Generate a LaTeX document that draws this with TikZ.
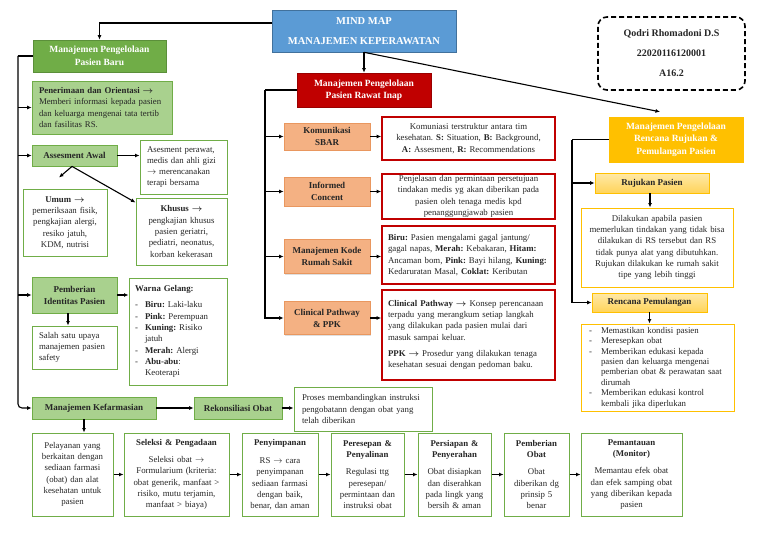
\documentclass[tikz,border=0pt]{standalone}
\usepackage{fontspec}
\setmainfont{Liberation Serif}
\usetikzlibrary{arrows.meta,shadows}
\frenchspacing
\definecolor{dgreen}{HTML}{70AD47}
\definecolor{dgreenb}{HTML}{5B8F3A}
\definecolor{lgreen}{HTML}{A9D18E}
\definecolor{salmon}{HTML}{F4B183}
\definecolor{salmonb}{HTML}{E9975F}
\definecolor{dred}{HTML}{C00000}
\definecolor{mblue}{HTML}{5B9BD5}
\definecolor{mblueb}{HTML}{41719C}
\definecolor{gold}{HTML}{FFC000}
\definecolor{lgoldt}{HTML}{FFE9A8}
\definecolor{lgoldb}{HTML}{FFD45A}
\definecolor{txt}{HTML}{262626}
\newcommand\fsn{\fontsize{8.8}{11.3}\selectfont}
\newcommand\fsl{\fontsize{8.8}{10.4}\selectfont}
\newcommand\fsb{\fontsize{9}{12}\selectfont\bfseries}
\newcommand\fst{\fontsize{9.5}{12.5}\selectfont\bfseries}
\newcommand\ra{$\rightarrow$}
\newcommand\rab{{\boldmath$\rightarrow$}}
\newcommand\dashitem[1]{\makebox[10pt][l]{-}#1}
\newcommand\contitem[1]{\hspace*{10pt}#1}
\newcommand\dashitemb[1]{\makebox[12pt][l]{-}#1}
\newcommand\contitemb[1]{\hspace*{12pt}#1}
\begin{document}
\begin{tikzpicture}[x=1pt,y=-1pt,
  every node/.style={inner sep=0pt, align=center, text=txt},
  shad/.style={drop shadow={opacity=0.25, shadow xshift=1.2pt, shadow yshift=-1.2pt}},
  dgbox/.style={fill=dgreen, draw=dgreenb, line width=0.6pt, text=white, font=\fst},
  lgbox/.style={shad, fill=lgreen, draw=dgreen, line width=0.8pt, font=\fsb},
  wgbox/.style={fill=white, draw=dgreen, line width=1pt, font=\fsn},
  sbox/.style={shad, fill=salmon, draw=salmonb, line width=0.8pt, font=\fsb},
  rbox/.style={fill=white, draw=dred, line width=1.6pt, font=\fsn},
  ybox/.style={shad, top color=lgoldt, bottom color=lgoldb, draw=gold, line width=0.8pt, font=\fsb},
  ywbox/.style={fill=white, draw=gold, line width=1pt, font=\fsn},
  arr/.style={-{Latex[length=4.5pt,width=4pt]}, line width=1.1pt},
  ln/.style={line width=1.1pt}
]
\useasboundingbox (0,0) rectangle (768,543);

% ---------- title and name ----------
\node[fill=mblue, draw=mblueb, line width=0.6pt, text=white,
      font=\fontsize{10.5}{12}\selectfont\bfseries,
      minimum width=184, minimum height=42] (mm) at (364,31)
      {MIND MAP\\[8pt]MANAJEMEN KEPERAWATAN};
\node[draw=black, dashed, dash pattern=on 5pt off 3pt, line width=1.6pt,
      rounded corners=9pt, font=\fontsize{10}{12}\selectfont\bfseries,
      minimum width=147, minimum height=73] (nm) at (671.5,53.5)
      {Qodri Rhomadoni D.S\\[8pt]22020116120001\\[8pt]A16.2};

% ---------- left branch ----------
\node[dgbox, minimum width=133, minimum height=32] (pb) at (99.5,56)
      {Manajemen Pengelolaan\\Pasien Baru};
\node[lgbox, font=\fsn, minimum width=140, minimum height=53, text width=126, align=left] (pen) at (102,107.5)
      {\textbf{Penerimaan dan Orientasi \rab}\\Memberi informasi kepada pasien\\dan keluarga mengenai tata tertib\\dan fasilitas RS.};
\node[lgbox, minimum width=85, minimum height=21] (aa) at (74.5,155.5) {Assesment Awal};
\node[wgbox, minimum width=87, minimum height=54, text width=73, align=left] (ap) at (183.5,167)
      {Asesment perawat,\\medis dan ahli gizi\\\ra{} merencanakan\\terapi bersama};
\node[wgbox, minimum width=84, minimum height=67, text width=78] (um) at (65,222.5)
      {\textbf{Umum \rab}\\pemeriksaan fisik,\\pengkajian alergi,\\resiko jatuh,\\KDM, nutrisi};
\node[wgbox, minimum width=91, minimum height=67, text width=85] (kh) at (181.5,231.5)
      {\textbf{Khusus \rab}\\pengkajian khusus\\pasien geriatri,\\pediatri, neonatus,\\korban kekerasan};
\node[lgbox, minimum width=85, minimum height=36] (pi) at (74.5,295) {Pemberian\\Identitas Pasien};
\node[wgbox, minimum width=98, minimum height=107, text width=86, align=left] (wg) at (178,331.5)
      {\textbf{Warna Gelang:}\\[5pt]
       \dashitem{\textbf{Biru:} Laki-laku}\\
       \dashitem{\textbf{Pink:} Perempuan}\\
       \dashitem{\textbf{Kuning:} Risiko}\\
       \contitem{jatuh}\\
       \dashitem{\textbf{Merah:} Alergi}\\
       \dashitem{\textbf{Abu-abu}:}\\
       \contitem{Keoterapi}};
\node[wgbox, minimum width=85, minimum height=43, text width=71, align=left] (ss) at (74.5,347.5)
      {Salah satu upaya\\manajemen pasien\\safety};
\node[lgbox, minimum width=124, minimum height=22] (kef) at (94,408) {Manajemen Kefarmasian};
\node[lgbox, minimum width=88, minimum height=22] (rek) at (238,408) {Rekonsiliasi Obat};
\node[wgbox, minimum width=138, minimum height=44, text width=122, align=left] (pro) at (363,409)
      {Proses membandingkan instruksi\\pengobatann dengan obat yang\\telah diberikan};

% bottom chain
\node[wgbox, minimum width=81, minimum height=83, text width=75] (pel) at (72.5,474.5)
      {Pelayanan yang\\berkaitan dengan\\sediaan farmasi\\(obat) dan alat\\kesehatan untuk\\pasien};
\node[wgbox, minimum width=105, minimum height=83, text width=99] (sel) at (176.5,474.5)
      {\textbf{Seleksi \& Pengadaan}\\[6pt]Seleksi obat \ra\\Formularium (kriteria:\\obat generik, manfaat >\\risiko, mutu terjamin,\\manfaat > biaya)};
\node[wgbox, minimum width=76, minimum height=83, text width=72] (pny) at (280,474.5)
      {\textbf{Penyimpanan}\\[7pt]RS \ra{} cara\\penyimpanan\\sediaan farmasi\\dengan baik,\\benar, dan aman};
\node[wgbox, minimum width=73, minimum height=83, text width=69] (prs) at (367.5,474.5)
      {\textbf{Peresepan \&}\\\textbf{Penyalinan}\\[6pt]Regulasi ttg\\peresepan/\\permintaan dan\\instruksi obat};
\node[wgbox, minimum width=73, minimum height=83, text width=69] (psp) at (454.5,474.5)
      {\textbf{Persiapan \&}\\\textbf{Penyerahan}\\[6pt]Obat disiapkan\\dan diserahkan\\pada lingk yang\\bersih \& aman};
\node[wgbox, minimum width=65, minimum height=83, text width=61] (pob) at (536.5,474.5)
      {\textbf{Pemberian}\\\textbf{Obat}\\[6pt]Obat\\diberikan dg\\prinsip 5\\benar};
\node[wgbox, minimum width=101, minimum height=83, text width=95] (pmt) at (631.5,474.5)
      {\textbf{Pemantauan}\\\textbf{(Monitor)}\\[6pt]Memantau efek obat\\dan efek samping obat\\yang diberikan kepada\\pasien};

% ---------- middle branch ----------
\node[fill=dred, draw=dred!80!black, line width=0.6pt, text=white, font=\fst,
      minimum width=134, minimum height=34] (ri) at (364,90)
      {Manajemen Pengelolaan\\Pasien Rawat Inap};
\node[sbox, minimum width=86, minimum height=27] (sb) at (327,136.5) {Komunikasi\\SBAR};
\node[sbox, minimum width=86, minimum height=29] (ic) at (327,191.5) {Informed\\Concent};
\node[sbox, minimum width=86, minimum height=34] (kd) at (327,256.5) {Manajemen Kode\\Rumah Sakit};
\node[sbox, minimum width=86, minimum height=33] (cp) at (327,318) {Clinical Pathway\\\& PPK};
\node[rbox, minimum width=173, minimum height=43, text width=165] (sbd) at (468.5,138.5)
      {Komuniasi terstruktur antara tim\\kesehatan. \textbf{S:} Situation, \textbf{B:} Background,\\\textbf{A:} Assesment, \textbf{R:} Recommendations};
\node[rbox, minimum width=173, minimum height=45, text width=165] (icd) at (468.5,196.5)
      {Penjelasan dan permintaan persetujuan\\tindakan medis yg akan diberikan pada\\pasien oleh tenaga medis kpd\\penanggungjawab pasien};
\node[rbox, minimum width=173, minimum height=58, text width=161, align=left] (kdd) at (468.5,255)
      {\textbf{Biru:} Pasien mengalami gagal jantung/\\gagal napas, \textbf{Merah:} Kebakaran, \textbf{Hitam:}\\Ancaman bom, \textbf{Pink:} Bayi hilang, \textbf{Kuning:}\\Kedaruratan Masal, \textbf{Coklat:} Keributan};
\node[rbox, minimum width=173, minimum height=90, text width=161, align=left] (cpd) at (468.5,335)
      {\textbf{Clinical Pathway \rab} Konsep perencanaan\\terpadu yang merangkum setiap langkah\\yang dilakukan pada pasien mulai dari\\masuk sampai keluar.\\[5pt]\textbf{PPK \rab} Prosedur yang dilakukan tenaga\\kesehatan sesuai dengan pedoman baku.};

% ---------- right branch ----------
\node[fill=gold, draw=gold, text=white, font=\fst, minimum width=134, minimum height=45] (yt) at (676,139.5)
      {Manajemen Pengelolaan\\Rencana Rujukan \&\\Pemulangan Pasien};
\node[ybox, minimum width=114, minimum height=20] (rp) at (652,183) {Rujukan Pasien};
\node[ywbox, minimum width=152, minimum height=79, text width=146] (rpd) at (657,247.5)
      {Dilakukan apabila pasien\\memerlukan tindakan yang tidak bisa\\dilakukan di RS tersebut dan RS\\tidak punya alat yang dibutuhkan.\\Rujukan dilakukan ke rumah sakit\\tipe yang lebih tinggi};
\node[ybox, minimum width=115, minimum height=19] (rpl) at (649.5,302.5) {Rencana Pemulangan};
\node[ywbox, font=\fsl, minimum width=153, minimum height=87, text width=137, align=left] (rpld) at (657.5,367.5)
      {\dashitemb{Memastikan kondisi pasien}\\
       \dashitemb{Meresepkan obat}\\
       \dashitemb{Memberikan edukasi kepada}\\
       \contitemb{pasien dan keluarga mengenai}\\
       \contitemb{pemberian obat \& perawatan saat}\\
       \contitemb{dirumah}\\
       \dashitemb{Memberikan edukasi kontrol}\\
       \contitemb{kembali jika diperlukan}};

% ---------- connectors ----------
\draw[arr] ([yshift=8pt]mm.west) -| (pb.north);
\draw[arr] (mm.south) -- (ri.north);
\draw[arr] (mm.south) -- ([xshift=-16pt,yshift=5pt]yt.north);

% left spine
\coordinate (ls) at (18,56);
\draw[ln] (pb.west) -- (ls);
\draw[arr, rounded corners=4pt] (ls) |- (kef.west);
\draw[arr] (ls |- pen.west) -- (pen.west);
\draw[arr] (ls |- aa.west) -- (aa.west);
\draw[arr] (ls |- pi.west) -- (pi.west);
\draw[arr] (aa.east) -- (aa.east -| ap.west);
\coordinate (aas) at ([xshift=-2.5pt]aa.south);
\coordinate (umt) at ([xshift=-6pt,yshift=11pt]um.north);
\draw[arr] (aas) -- (umt);
\draw[arr] (aas) -- ([yshift=-5pt]kh.north west);
\draw[arr] (pi.east) -- (pi.east -| wg.west);
\draw[arr] ([xshift=-6.5pt]pi.south) -- ([xshift=-6.5pt]pi.south |- ss.north);
\draw[arr] (kef.east) -- (kef.east -| rek.west);
\draw[arr] (rek.east) -- (rek.east -| pro.west);
\draw[arr] ([xshift=-10pt]kef.south) -- ([xshift=-10pt]kef.south |- pel.north);
\draw[arr] (pel.east) -- (sel.west);
\draw[arr] (sel.east) -- (pny.west);
\draw[arr] (pny.east) -- (prs.west);
\draw[arr] (prs.east) -- (psp.west);
\draw[arr] (psp.east) -- (pob.west);
\draw[arr] (pob.east) -- (pmt.west);

% middle spine
\coordinate (ms) at (265,90);
\draw[ln] (ri.west) -- (ms);
\draw[arr] (ms) |- (cp.west);
\draw[arr] (ms |- sb.west) -- (sb.west);
\draw[arr] (ms |- ic.west) -- (ic.west);
\draw[arr] (ms |- kd.west) -- (kd.west);
\draw[arr] (sb.east) -- (sb.east -| sbd.west);
\draw[arr] (ic.east) -- (ic.east -| icd.west);
\draw[arr] (kd.east) -- (kd.east -| kdd.west);
\draw[arr] (cp.east) -- (cp.east -| cpd.west);

% right spine
\coordinate (rs) at (572,139.5);
\draw[ln] (yt.west) -- (rs);
\draw[arr] (rs) |- (rpl.west);
\draw[arr] (rs |- rp.west) -- (rp.west);
\draw[arr] ([xshift=-2pt]rp.south) -- ([xshift=-2pt]rp.south |- rpd.north);
\draw[arr] (rpl.south) -- (rpl.south |- rpld.north);
\end{tikzpicture}
\end{document}
